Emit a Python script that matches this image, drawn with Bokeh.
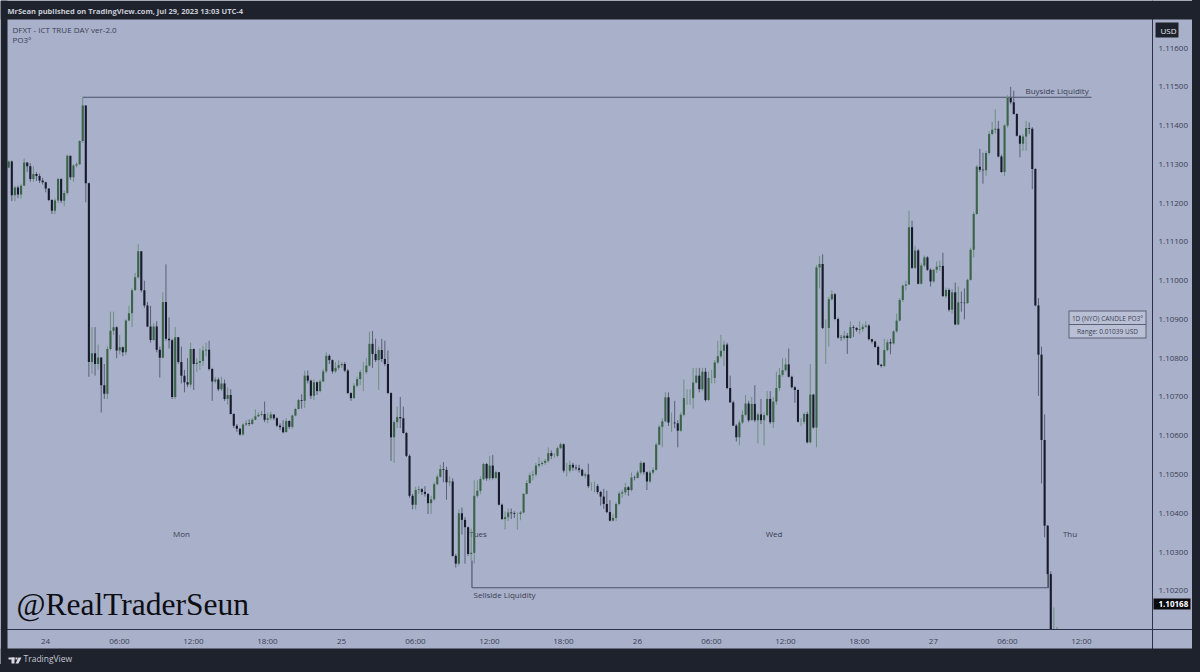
from bokeh.plotting import figure
from bokeh.embed import file_html
from bokeh.resources import INLINE
from bokeh.models import (ColumnDataSource, FixedTicker, Label, BoxAnnotation, PolyAnnotation, NumeralTickFormatter)
from bokeh.core.properties import value

# Prices, in points above 1.10000 (1 point = 0.00001)
first_open = 1292
closes = [
1307,1220,1240,1222,1245,1305,1295,1262,1275,1270,
1258,1254,1238,1208,1180,1207,1262,1206,1226,1322,
1267,1297,1300,1360,1452,1251,790,813,785,802,
730,708,824,871,880,820,828,815,897,916,
975,1009,1076,975,936,882,847,882,822,801,
945,850,846,700,854,790,755,738,732,824,
785,788,793,820,822,772,740,745,720,735,
695,705,656,626,618,603,629,632,630,641,
650,654,656,641,645,655,645,626,622,609,
638,623,652,669,692,690,755,742,703,738,
715,740,766,806,795,766,775,782,785,768,
710,697,729,746,764,764,781,837,811,795,
821,798,785,710,596,635,648,645,607,548,
445,422,460,462,455,450,426,436,475,494,
514,512,480,482,290,270,400,383,364,295,
298,445,458,488,527,490,523,491,506,422,
385,390,402,400,398,398,402,450,478,498,
500,523,527,530,535,555,548,548,568,578,
510,510,525,518,516,512,497,500,470,470,
470,455,443,424,403,381,388,424,451,454,
467,460,492,491,505,530,506,482,505,512,
577,623,637,699,634,634,632,613,654,697,
697,697,737,755,720,765,692,749,749,789,
805,819,835,723,686,626,596,634,654,683,
640,682,640,655,640,653,695,635,688,723,
757,769,784,752,725,718,636,636,656,583,
706,621,1034,1043,878,878,952,965,901,853,
852,858,852,880,878,873,875,881,884,849,
843,829,783,780,821,841,838,869,897,950,
987,990,1138,1033,1078,992,1039,1060,1028,998,
1028,1036,1038,960,976,925,970,887,944,943,
942,1002,1080,1172,1294,1286,1285,1329,1378,1389,
1392,1320,1280,1400,1471,1460,1430,1374,1353,1372,
1394,1392,1288,936,809,589,368,243,101,101,
101]
highs = [
1310,1310,1245,1245,1250,1315,1305,1303,1295,1280,
1276,1265,1255,1238,1210,1212,1265,1264,1232,1325,
1322,1300,1305,1362,1473,1452,1253,880,880,835,
802,785,830,920,920,882,860,830,900,935,
980,1020,1095,1076,1000,945,935,890,895,830,
970,1042,905,850,880,855,830,770,800,840,
825,800,825,832,840,845,775,752,750,752,
745,725,720,658,630,620,632,640,642,645,
668,660,664,688,660,662,650,648,632,640,
645,640,655,672,695,707,768,768,745,745,
740,745,772,815,810,797,790,795,790,790,
772,712,735,752,770,790,800,868,870,850,
830,850,845,820,712,640,675,700,675,610,
552,450,468,470,465,470,452,445,480,500,
525,532,520,495,490,295,410,415,390,366,
360,485,485,495,530,530,548,550,510,505,
425,405,412,412,405,402,406,452,485,505,
510,530,545,535,540,570,562,555,572,582,
580,530,535,530,525,525,515,505,528,480,
482,475,458,463,458,434,398,428,456,460,
478,470,505,497,510,535,532,508,510,518,
582,628,645,712,712,660,690,640,660,745,
720,720,775,775,775,775,775,765,770,795,
845,860,845,840,755,690,630,640,665,705,
690,700,730,660,695,660,715,715,700,765,
775,800,800,825,755,728,720,645,660,662,
785,708,1040,1063,1068,900,958,975,968,905,
860,870,865,895,885,880,895,888,895,888,
850,845,832,785,850,848,850,872,915,955,
990,1000,1180,1155,1090,1082,1045,1065,1063,1032,
1030,1050,1052,1072,982,980,978,995,985,972,
980,1005,1085,1178,1298,1340,1330,1335,1385,1410,
1442,1412,1325,1403,1478,1500,1490,1432,1376,1378,
1412,1408,1396,1290,955,830,655,370,250,157,
107]
lows = [
1290,1205,1205,1213,1212,1245,1280,1255,1255,1257,
1252,1248,1228,1205,1172,1172,1200,1200,1192,1222,
1260,1255,1292,1298,1355,1202,752,760,755,770,
660,695,695,820,860,800,810,805,808,895,
880,975,1005,970,930,880,840,845,815,750,
800,845,825,695,695,785,735,712,725,725,
718,765,770,780,805,768,690,735,715,715,
690,680,655,620,610,600,600,625,625,628,
640,648,650,635,632,640,640,622,615,606,
620,618,618,650,668,670,672,735,695,692,
705,712,738,762,785,760,762,770,775,764,
708,690,695,725,730,715,760,778,775,790,
718,790,780,708,535,530,620,620,605,545,
440,410,410,450,447,443,398,398,432,472,
492,480,435,470,288,260,265,345,270,290,
278,270,440,450,485,484,485,487,488,420,
383,358,380,385,388,358,382,400,448,475,
485,495,518,522,525,530,540,543,545,565,
505,495,505,510,510,505,495,490,465,458,
454,450,420,411,400,379,379,380,420,440,
447,445,456,485,490,500,500,460,478,500,
510,575,570,635,625,610,620,570,610,650,
680,680,670,735,712,715,688,690,735,735,
785,800,780,720,685,625,585,575,630,650,
635,640,635,580,630,575,650,630,620,680,
715,752,765,750,722,685,634,625,630,580,
580,618,570,980,875,785,830,948,898,850,
845,848,811,850,855,868,862,868,878,846,
838,826,781,776,777,818,810,835,866,895,
945,975,990,1030,1030,990,990,1035,1025,985,
995,1020,1025,958,955,920,915,885,885,920,
900,940,1000,1060,1170,1280,1250,1270,1325,1375,
1380,1318,1278,1270,1395,1455,1428,1372,1318,1335,
1335,1378,1236,934,703,477,338,208,101,101,
101]

price_ticks = [1.102,1.103,1.104,1.105,1.106,1.107,1.108,1.109,1.110,1.111,1.112,1.113,1.114,1.115,1.116]
time_ticks = [11.68,35.68,59.68,83.68,107.68,131.68,155.68,179.68,203.68,227.68,251.68,275.68,299.68,323.68,347.68]
time_labels = ["24","06:00","12:00","18:00","25","06:00","12:00","18:00","26","06:00","12:00","18:00","27","06:00","12:00"]
day_names = ["Mon","Tues","Wed","Thu"]
day_bars = [55.8,152,248,344]
day_price = 1.10347
buyside_price, buyside_from, buyside_to = 1.11473, 23.7, 351
sellside_price, sellside_from, sellside_to, sellside_top_left, sellside_top_right = 1.10208, 150, 337, 1.10278, 1.10243
last_price = 1.10168

PANE = "#a8b0ca"
DARK = "#1e222d"
INK = "#3b4053"
UP_BODY, DN_BODY = "#3a6447", "#161a2a"
UP_WICK, DN_WICK = "#6f8f80", "#5a6075"
UI = value("Open Sans")

opens = [first_open] + closes[:-1]
to_price = lambda v: [1.1 + a / 1e5 for a in v]
bars = [i - 0.25 for i in range(len(closes))]
up = [c >= o for c, o in zip(closes, opens)]
src = ColumnDataSource(dict(
    x=bars, o=to_price(opens), c=to_price(closes), h=to_price(highs), l=to_price(lows),
    body=[UP_BODY if u else DN_BODY for u in up],
    wick=[UP_WICK if u else DN_WICK for u in up]))

p = figure(width=1192, height=664, output_backend="svg", toolbar_location=None,
           x_range=(-2.92, 383.72), y_range=(1.100099, 1.117226),
           y_axis_location="right", background_fill_color=PANE, border_fill_color=DARK,
           min_border_left=0, min_border_right=0, min_border_top=0, min_border_bottom=0)
p.styles = {"box-shadow": "0 0 0 8px " + DARK}
p.grid.visible = False
p.outline_line_color = None

ya = p.yaxis[0]
ya.fixed_location = 370.74
ya.ticker = FixedTicker(ticks=price_ticks)
ya.formatter = NumeralTickFormatter(format="0.00000")
ya.axis_line_color = "#2c3048"
ya.major_tick_line_color = None
ya.minor_tick_line_color = None
ya.major_tick_out = 0
ya.major_tick_in = 0
ya.major_label_text_font = "Open Sans"
ya.major_label_text_font_size = "8px"
ya.major_label_text_color = INK
ya.major_label_standoff = 6

xa = p.xaxis[0]
xa.fixed_location = 1.10100
xa.ticker = FixedTicker(ticks=time_ticks)
xa.major_label_overrides = dict(zip(time_ticks, time_labels))
xa.axis_line_color = "#2c3048"
xa.major_tick_line_color = None
xa.minor_tick_line_color = None
xa.major_tick_out = 0
xa.major_tick_in = 0
xa.major_label_text_font = "Open Sans"
xa.major_label_text_font_size = "8px"
xa.major_label_text_color = INK
xa.major_label_standoff = 5

p.text(day_bars, [day_price] * 4, text=day_names, text_font=UI, text_font_size="8px",
       text_color=INK, text_align="center", text_baseline="middle")

p.segment(x0=[buyside_from, sellside_from, sellside_from, sellside_to],
          y0=[buyside_price, sellside_price, sellside_price, sellside_price],
          x1=[buyside_to, sellside_to, sellside_from, sellside_to],
          y1=[buyside_price, sellside_price, sellside_top_left, sellside_top_right],
          line_color="#4b5068", line_width=1.1)
p.segment("x", "h", "x", "l", source=src, line_color="wick", line_width=1)
p.vbar(x="x", top="o", bottom="c", width=0.68, source=src, fill_color="body", line_color=None)

def band(l, r, t, b, color):
    p.add_layout(BoxAnnotation(left=l, right=r, top=t, bottom=b, left_units="canvas", right_units="canvas",
                               top_units="canvas", bottom_units="canvas", fill_color=color, fill_alpha=1,
                               line_color=None, level="annotation"))

def label(x, y, text, size, color, **kw):
    p.add_layout(Label(x=x, y=y, x_units="canvas", y_units="canvas", text=text, text_font=kw.pop("font", "Open Sans"),
                       text_font_size=size, text_color=color, text_baseline="middle", level="annotation", **kw))

band(0, 1192, 0, 19, DARK)       # header strip
band(0, 7, 0, 664, DARK)         # left strip
band(0, 1192, 648, 664, DARK)    # footer strip

label(7, 10, "MrSean published on TradingView.com, Jul 29, 2023 13:03 UTC-4", "7.5px", "#c9ccd6", text_font_style="bold")
label(12, 29, "DFXT - ICT TRUE DAY ver-2.0", "8px", INK)
label(12, 39, "PO3°", "8px", INK)
label(1025, 90, "Buyside Liquidity", "8px", INK)
label(473, 594, "Sellside Liquidity", "8px", INK)
label(16, 604, "@RealTraderSeun", "31.5px", "#0d0d12", font="Liberation Serif")

# USD tag
band(1155, 1178, 22, 37, DARK)
label(1160, 29.5, "USD", "8px", "#e6e8ee")
# last-price tag
band(1153, 1190, 598, 609, "#0a0a0f")
label(1158, 603.5, "1.10168", "8px", "#ffffff", text_font_style="bold")

# info box
band(1068, 1146, 310, 338, "#5a6076")
band(1069, 1145, 311, 323.5, "#b9c0d5")
band(1069, 1145, 324.5, 337, "#b9c0d5")
label(1107, 317.5, "1D (NYO) CANDLE PO3°", "6.5px", INK, text_align="center")
label(1107, 331, "Range: 0.01039 USD", "6.5px", INK, text_align="center")

# footer logo
band(8, 14, 657, 659, "#d5d8e0")
band(11, 14, 657, 663, "#d5d8e0")
band(15, 17, 657, 659, "#d5d8e0")
p.add_layout(PolyAnnotation(xs=[18, 21, 18, 15], ys=[657, 657, 663, 663], xs_units="canvas", ys_units="canvas",
                            fill_color="#d5d8e0", fill_alpha=1, line_color=None, level="annotation"))
label(23, 658, "TradingView", "8.5px", "#c3c7d2")

open("out.html", "w").write(file_html(p, INLINE))
